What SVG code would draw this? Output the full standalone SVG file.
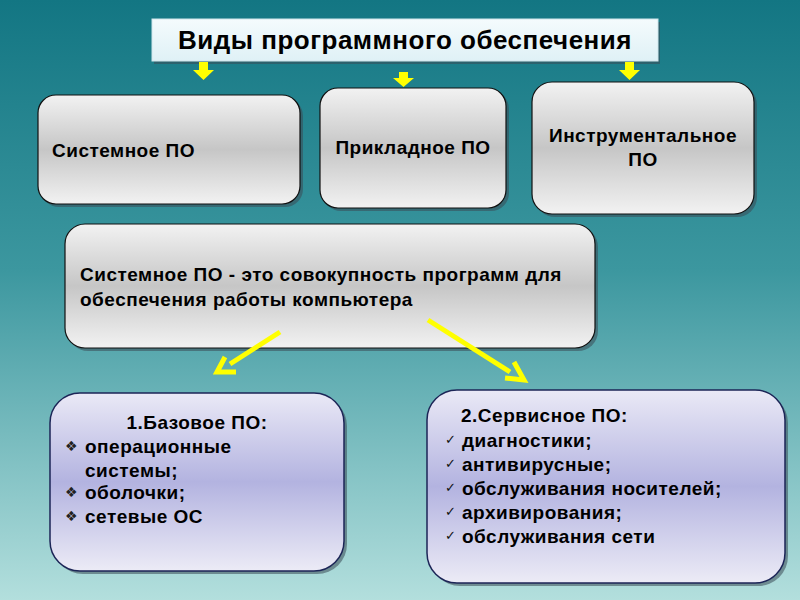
<svg xmlns="http://www.w3.org/2000/svg" width="800" height="600" viewBox="0 0 800 600">
<defs>
<linearGradient id="bg" x1="0" y1="0" x2="0" y2="1">
<stop offset="0" stop-color="#137683"/>
<stop offset="0.45" stop-color="#3c979f"/>
<stop offset="1" stop-color="#b3dfdd"/>
</linearGradient>
<linearGradient id="gray" x1="0" y1="0" x2="0" y2="1">
<stop offset="0" stop-color="#f2f2f2"/>
<stop offset="0.5" stop-color="#c6c6c6"/>
<stop offset="1" stop-color="#f2f2f2"/>
</linearGradient>
<linearGradient id="lav" x1="0" y1="0" x2="0" y2="1">
<stop offset="0" stop-color="#eae9f6"/>
<stop offset="0.5" stop-color="#b3b3e0"/>
<stop offset="1" stop-color="#ecebf6"/>
</linearGradient>
<linearGradient id="ttl" x1="0" y1="0" x2="0" y2="1">
<stop offset="0" stop-color="#f4fbfd"/>
<stop offset="1" stop-color="#dff1f6"/>
</linearGradient>
</defs>
<style>
text{font-family:"Liberation Sans",Arial,sans-serif;font-weight:bold;fill:#000}
.g{fill:url(#gray);stroke:#111;stroke-width:1.2}
.l{fill:url(#lav);stroke:#1c2557;stroke-width:1.5}
.sh{fill:#3a4a55;opacity:0.55}
.ya{fill:#ffff00}
.yl{stroke:#ffff00;stroke-width:5;fill:none;stroke-linecap:butt}
.t{font-size:19px;letter-spacing:0.5px}
.b{font-family:"DejaVu Sans",sans-serif;font-size:14px;font-weight:normal;fill:#222}
.c{font-family:"DejaVu Sans",sans-serif;font-size:13px;font-weight:normal;fill:#111}
</style>
<rect width="800" height="600" fill="url(#bg)"/>

<g id="title">
<rect x="154" y="22" width="506" height="42" class="sh"/>
<rect x="152" y="19" width="506" height="42" fill="url(#ttl)" stroke="#cfe6ec" stroke-width="1"/>
<text x="405" y="49" text-anchor="middle" font-size="26" letter-spacing="0.5">Виды программного обеспечения</text>
</g>

<g id="n-system">
<rect x="41" y="98" width="262" height="109" rx="18" class="sh"/>
<rect x="38" y="95" width="262" height="109" rx="18" class="g"/>
<text x="52" y="157" class="t">Системное ПО</text>
</g>

<g id="n-applied">
<rect x="323" y="91" width="186" height="120" rx="18" class="sh"/>
<rect x="320" y="88" width="186" height="120" rx="18" class="g"/>
<text x="413" y="154" text-anchor="middle" class="t">Прикладное ПО</text>
</g>

<g id="n-instr">
<rect x="535" y="85" width="222" height="132" rx="20" class="sh"/>
<rect x="532" y="82" width="222" height="132" rx="20" class="g"/>
<text x="643" y="142" text-anchor="middle" class="t">Инструментальное</text>
<text x="643" y="166" text-anchor="middle" class="t">ПО</text>
</g>

<g id="n-def">
<rect x="68" y="227" width="530" height="124" rx="20" class="sh"/>
<rect x="65" y="224" width="530" height="124" rx="20" class="g"/>
<text x="80" y="281" class="t">Системное ПО - это совокупность программ для</text>
<text x="80" y="306" class="t">обеспечения работы компьютера</text>
</g>

<g id="n-base">
<rect x="53" y="396" width="294" height="178" rx="30" class="sh"/>
<rect x="50" y="393" width="294" height="178" rx="30" class="l"/>
<text x="197" y="429" text-anchor="middle" class="t">1.Базовое ПО:</text>
<text x="65" y="451" class="b">❖</text>
<text x="85" y="453" class="t">операционные</text>
<text x="85" y="477" class="t">системы;</text>
<text x="65" y="497" class="b">❖</text>
<text x="85" y="499" class="t">оболочки;</text>
<text x="65" y="521" class="b">❖</text>
<text x="85" y="523" class="t">сетевые ОС</text>
</g>

<g id="n-service">
<rect x="430" y="393" width="358" height="193" rx="30" class="sh"/>
<rect x="427" y="390" width="358" height="193" rx="30" class="l"/>
<text x="461" y="422" class="t">2.Сервисное ПО:</text>
<text x="445" y="444" class="c">✓</text>
<text x="462" y="447" class="t">диагностики;</text>
<text x="445" y="468" class="c">✓</text>
<text x="462" y="471" class="t">антивирусные;</text>
<text x="445" y="492" class="c">✓</text>
<text x="462" y="495" class="t">обслуживания носителей;</text>
<text x="445" y="516" class="c">✓</text>
<text x="462" y="519" class="t">архивирования;</text>
<text x="445" y="540" class="c">✓</text>
<text x="462" y="543" class="t">обслуживания сети</text>
</g>

<g id="connectors">
<path class="ya" d="M199,62 h9 v8 h6 l-10.5,10 l-10.5,-10 h6 z"/>
<path class="ya" d="M399,72 h9 v6 h6 l-10.5,9 l-10.5,-9 h6 z"/>
<path class="ya" d="M625,62 h9 v8 h6 l-10.5,10 l-10.5,-10 h6 z"/>
<line class="yl" x1="280" y1="332" x2="230" y2="364"/>
<polyline class="yl" points="225,357 217,372 236,372"/>
<line class="yl" x1="428" y1="320" x2="510" y2="372"/>
<polyline class="yl" points="514,362 524,380 505,378"/>
</g>
</svg>
